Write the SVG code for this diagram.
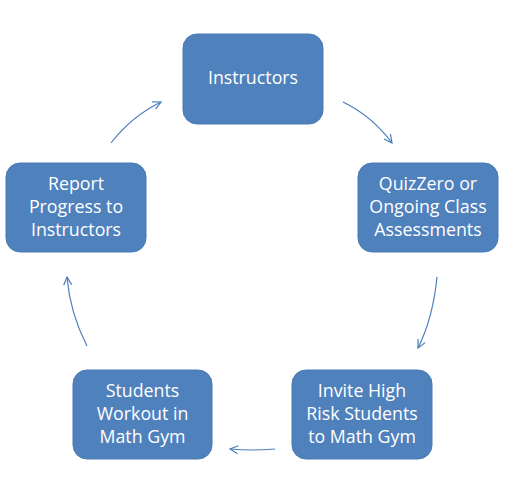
<svg xmlns="http://www.w3.org/2000/svg" width="510" height="500" viewBox="0 0 510 500">
<style>
.box{fill:#4F81BD;stroke:#4A7AB5;stroke-width:1}
.t{fill:#fff;font-family:"Open Sans","Liberation Sans",sans-serif;font-size:17.8px;text-anchor:middle}
.c{fill:none;stroke:#4A7EBB;stroke-width:1.2;marker-end:url(#ah)}
</style>
<defs>
<marker id="ah" viewBox="0 0 10 10" refX="9" refY="5" markerWidth="10" markerHeight="10" markerUnits="userSpaceOnUse" orient="auto">
<path d="M1,1 L9,5 L1,9" fill="none" stroke="#4A7EBB" stroke-width="1.2"/>
</marker>
</defs>
<rect width="510" height="500" fill="#fff"/>
<g id="connectors">
<path class="c" d="M111,143 Q132,116 161,102"/>
<path class="c" d="M343,102 Q372,116 392,143"/>
<path class="c" d="M437,277 Q433,318 418,348"/>
<path class="c" d="M275,449 Q252,451 230,449"/>
<path class="c" d="M87,346 Q70,313 67,277"/>
</g>
<g id="instructors">
<rect class="box" x="183" y="34" width="140" height="90" rx="14"/>
<text class="t" x="253" y="84">Instructors</text>
</g>
<g id="quizzero">
<rect class="box" x="358" y="163" width="140" height="89" rx="14"/>
<text class="t" x="428" y="190">QuizZero or</text>
<text class="t" x="428" y="213">Ongoing Class</text>
<text class="t" x="428" y="236">Assessments</text>
</g>
<g id="invite">
<rect class="box" x="292" y="370" width="140" height="89" rx="14"/>
<text class="t" x="362" y="397">Invite High</text>
<text class="t" x="362" y="420">Risk Students</text>
<text class="t" x="362" y="443">to Math Gym</text>
</g>
<g id="students">
<rect class="box" x="73" y="370" width="139" height="89" rx="14"/>
<text class="t" x="142.5" y="397">Students</text>
<text class="t" x="142.5" y="420">Workout in</text>
<text class="t" x="142.5" y="443">Math Gym</text>
</g>
<g id="report">
<rect class="box" x="6" y="163" width="140" height="89" rx="14"/>
<text class="t" x="76" y="190">Report</text>
<text class="t" x="76" y="213">Progress to</text>
<text class="t" x="76" y="236">Instructors</text>
</g>
</svg>
